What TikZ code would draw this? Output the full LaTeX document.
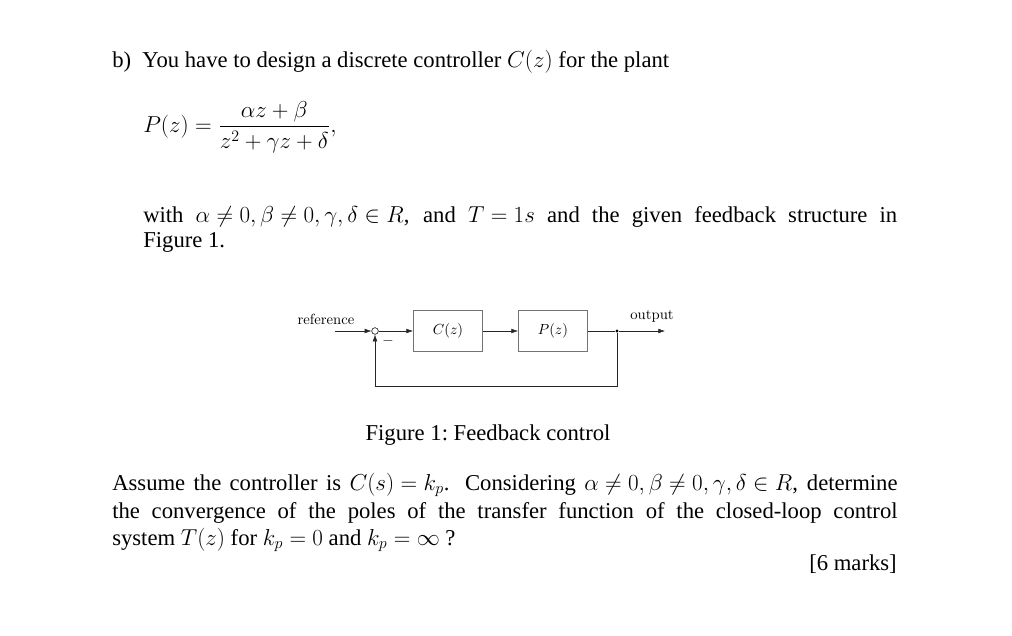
\documentclass[tikz,border=0pt]{standalone}
\usepackage{amsmath,amssymb}
\usepackage{fontspec}
\setmainfont{Liberation Serif}
\newfontfamily\lmfam{Latin Modern Roman}
\usetikzlibrary{arrows.meta}
\begin{document}
\thickmuskip=5mu\relax
\medmuskip=4mu\relax
\begin{tikzpicture}[x=0.75pt,y=-0.75pt,
  body/.style={inner sep=0pt,font=\fontsize{17}{20}\selectfont},
  blk/.style={draw=black!55,minimum width=52pt,minimum height=31pt,inner sep=0pt,font=\fontsize{11}{13}\selectfont},
  sig/.style={-{Latex[length=5pt,width=3.5pt]},black!85},
  lbl/.style={font=\fontsize{11}{13}\selectfont\lmfam,inner sep=0pt}]
\useasboundingbox (0,0) rectangle (1012,635);
\node[body,anchor=base west] (t1) at (112,68) {b)\hspace{0.5em}You have to design a discrete controller $C(z)$ for the plant};
\node[body,anchor=west] (eq) at (143,127) {$P(z)=\dfrac{\alpha z+\beta}{z^2+\gamma z+\delta},$};
\node[body,anchor=base west] (t2) at (143,222) {\makebox[565.5pt][s]{with $\alpha\neq0,\beta\neq0,\gamma,\delta\in R$, and $T=1s$ and the given feedback structure in}};
\node[body,anchor=base west] (t2b) at (143,247) {Figure 1.};
\node[body,anchor=base] (cap) at (488,440) {Figure 1:\ Feedback control};
\node[body,anchor=base west] (t3) at (112,490) {\makebox[589pt][s]{Assume the controller is $C(s)=k_p$. Considering $\alpha\neq0,\beta\neq0,\gamma,\delta\in R$, determine}};
\node[body,anchor=base west] (t3b) at (112,518) {\makebox[589pt][s]{the convergence of the poles of the transfer function of the closed-loop control}};
\node[body,anchor=base west] (t3c) at (112,545) {system $T(z)$ for $k_p=0$ and $k_p=\infty$ ?};
\node[body,anchor=base east] (mk) at (897,570) {[6 marks]};
% diagram
\coordinate (in) at (335,331);
\node[draw,circle,inner sep=0pt,minimum size=5pt] (sum) at (375,331) {};
\node[blk] (C) at (448,331) {$C(z)$};
\node[blk] (P) at (553,331) {$P(z)$};
\node[circle,fill,inner sep=0pt,minimum size=2.5pt] (br) at (617,331) {};
\coordinate (out) at (665,331);
\coordinate (fb) at (617,386);
\coordinate (fb2) at (375,386);
\node[lbl] (ref) at (326,319) {reference};
\node[lbl] (ol) at (652,316) {output};
\node[lbl] (mn) at (388,341) {$-$};
\draw[sig] (in) -- (sum);
\draw[sig] (sum) -- (C);
\draw[sig] (C) -- (P);
\draw[black!85] (P) -- (br);
\draw[sig] (br) -- (out);
\draw[sig] (br) -- (fb) -- (fb2) -- (sum);
\end{tikzpicture}
\end{document}
